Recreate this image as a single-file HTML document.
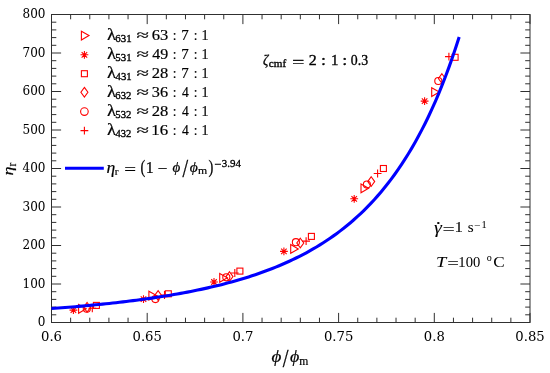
<!DOCTYPE html>
<html><head><meta charset="utf-8"><title>plot</title>
<style>html,body{margin:0;padding:0;background:#fff;}svg{display:block;}text{font-family:"Liberation Serif","DejaVu Serif",serif;fill:#000;stroke:#000;stroke-width:0.2px;}.tk{font-family:"DejaVu Serif","Liberation Serif",serif;font-size:12.8px;fill:#000;stroke-width:0.04px;}.m{fill:none;stroke:#f00;stroke-width:1.1;}</style>
</head><body>
<svg width="550" height="373" viewBox="0 0 550 373">
<rect x="0" y="0" width="550" height="373" fill="#fff"/>
<path d="M51.50 322.5v-9.6M51.50 14.5v9.6M70.64 322.5v-4.8M70.64 14.5v4.8M89.78 322.5v-4.8M89.78 14.5v4.8M108.92 322.5v-4.8M108.92 14.5v4.8M128.06 322.5v-4.8M128.06 14.5v4.8M147.20 322.5v-9.6M147.20 14.5v9.6M166.34 322.5v-4.8M166.34 14.5v4.8M185.48 322.5v-4.8M185.48 14.5v4.8M204.62 322.5v-4.8M204.62 14.5v4.8M223.76 322.5v-4.8M223.76 14.5v4.8M242.90 322.5v-9.6M242.90 14.5v9.6M262.04 322.5v-4.8M262.04 14.5v4.8M281.18 322.5v-4.8M281.18 14.5v4.8M300.32 322.5v-4.8M300.32 14.5v4.8M319.46 322.5v-4.8M319.46 14.5v4.8M338.60 322.5v-9.6M338.60 14.5v9.6M357.74 322.5v-4.8M357.74 14.5v4.8M376.88 322.5v-4.8M376.88 14.5v4.8M396.02 322.5v-4.8M396.02 14.5v4.8M415.16 322.5v-4.8M415.16 14.5v4.8M434.30 322.5v-9.6M434.30 14.5v9.6M453.44 322.5v-4.8M453.44 14.5v4.8M472.58 322.5v-4.8M472.58 14.5v4.8M491.72 322.5v-4.8M491.72 14.5v4.8M510.86 322.5v-4.8M510.86 14.5v4.8M530.00 322.5v-9.6M530.00 14.5v9.6M51.5 322.50h9.6M530.0 322.50h-9.6M51.5 314.80h4.8M530.0 314.80h-4.8M51.5 307.10h4.8M530.0 307.10h-4.8M51.5 299.40h4.8M530.0 299.40h-4.8M51.5 291.70h4.8M530.0 291.70h-4.8M51.5 284.00h9.6M530.0 284.00h-9.6M51.5 276.30h4.8M530.0 276.30h-4.8M51.5 268.60h4.8M530.0 268.60h-4.8M51.5 260.90h4.8M530.0 260.90h-4.8M51.5 253.20h4.8M530.0 253.20h-4.8M51.5 245.50h9.6M530.0 245.50h-9.6M51.5 237.80h4.8M530.0 237.80h-4.8M51.5 230.10h4.8M530.0 230.10h-4.8M51.5 222.40h4.8M530.0 222.40h-4.8M51.5 214.70h4.8M530.0 214.70h-4.8M51.5 207.00h9.6M530.0 207.00h-9.6M51.5 199.30h4.8M530.0 199.30h-4.8M51.5 191.60h4.8M530.0 191.60h-4.8M51.5 183.90h4.8M530.0 183.90h-4.8M51.5 176.20h4.8M530.0 176.20h-4.8M51.5 168.50h9.6M530.0 168.50h-9.6M51.5 160.80h4.8M530.0 160.80h-4.8M51.5 153.10h4.8M530.0 153.10h-4.8M51.5 145.40h4.8M530.0 145.40h-4.8M51.5 137.70h4.8M530.0 137.70h-4.8M51.5 130.00h9.6M530.0 130.00h-9.6M51.5 122.30h4.8M530.0 122.30h-4.8M51.5 114.60h4.8M530.0 114.60h-4.8M51.5 106.90h4.8M530.0 106.90h-4.8M51.5 99.20h4.8M530.0 99.20h-4.8M51.5 91.50h9.6M530.0 91.50h-9.6M51.5 83.80h4.8M530.0 83.80h-4.8M51.5 76.10h4.8M530.0 76.10h-4.8M51.5 68.40h4.8M530.0 68.40h-4.8M51.5 60.70h4.8M530.0 60.70h-4.8M51.5 53.00h9.6M530.0 53.00h-9.6M51.5 45.30h4.8M530.0 45.30h-4.8M51.5 37.60h4.8M530.0 37.60h-4.8M51.5 29.90h4.8M530.0 29.90h-4.8M51.5 22.20h4.8M530.0 22.20h-4.8M51.5 14.50h9.6M530.0 14.50h-9.6" stroke="#303030" stroke-width="1" fill="none"/>
<rect x="51.5" y="14.5" width="478.5" height="308.0" fill="none" stroke="#303030" stroke-width="1"/>
<text class="tk" transform="translate(51.50,341.2) scale(1.03,1)" text-anchor="middle">0.6</text>
<text class="tk" transform="translate(147.20,341.2) scale(1.03,1)" text-anchor="middle">0.65</text>
<text class="tk" transform="translate(242.90,341.2) scale(1.03,1)" text-anchor="middle">0.7</text>
<text class="tk" transform="translate(338.60,341.2) scale(1.03,1)" text-anchor="middle">0.75</text>
<text class="tk" transform="translate(434.30,341.2) scale(1.03,1)" text-anchor="middle">0.8</text>
<text class="tk" transform="translate(530.00,341.2) scale(1.03,1)" text-anchor="middle">0.85</text>
<text class="tk" transform="translate(45.5,326.30) scale(0.94,1)" text-anchor="end">0</text>
<text class="tk" transform="translate(45.5,287.80) scale(0.94,1)" text-anchor="end">100</text>
<text class="tk" transform="translate(45.5,249.30) scale(0.94,1)" text-anchor="end">200</text>
<text class="tk" transform="translate(45.5,210.80) scale(0.94,1)" text-anchor="end">300</text>
<text class="tk" transform="translate(45.5,172.30) scale(0.94,1)" text-anchor="end">400</text>
<text class="tk" transform="translate(45.5,133.80) scale(0.94,1)" text-anchor="end">500</text>
<text class="tk" transform="translate(45.5,95.30) scale(0.94,1)" text-anchor="end">600</text>
<text class="tk" transform="translate(45.5,56.80) scale(0.94,1)" text-anchor="end">700</text>
<text class="tk" transform="translate(45.5,18.30) scale(0.94,1)" text-anchor="end">800</text>
<path class="m" d="M78.60 304.40L86.20 308.80L78.60 313.20Z"/>
<path class="m" d="M148.90 291.20L156.50 295.60L148.90 300.00Z"/>
<path class="m" d="M219.70 273.40L227.30 277.80L219.70 282.20Z"/>
<path class="m" d="M290.70 244.50L298.30 248.90L290.70 253.30Z"/>
<path class="m" d="M361.00 183.90L368.60 188.30L361.00 192.70Z"/>
<path class="m" d="M431.70 87.70L439.30 92.10L431.70 96.50Z"/>
<path class="m" d="M69.50 310.10h7.8M73.40 306.20v7.8M70.64 307.34l5.52 5.52M70.64 312.86l5.52 -5.52"/>
<path class="m" d="M139.60 299.10h7.8M143.50 295.20v7.8M140.74 296.34l5.52 5.52M140.74 301.86l5.52 -5.52"/>
<path class="m" d="M210.10 282.00h7.8M214.00 278.10v7.8M211.24 279.24l5.52 5.52M211.24 284.76l5.52 -5.52"/>
<path class="m" d="M280.00 251.40h7.8M283.90 247.50v7.8M281.14 248.64l5.52 5.52M281.14 254.16l5.52 -5.52"/>
<path class="m" d="M350.30 198.80h7.8M354.20 194.90v7.8M351.44 196.04l5.52 5.52M351.44 201.56l5.52 -5.52"/>
<path class="m" d="M420.70 101.10h7.8M424.60 97.20v7.8M421.84 98.34l5.52 5.52M421.84 103.86l5.52 -5.52"/>
<rect class="m" x="93.40" y="302.40" width="6.0" height="6.0"/>
<rect class="m" x="165.30" y="290.80" width="6.0" height="6.0"/>
<rect class="m" x="236.90" y="268.10" width="6.0" height="6.0"/>
<rect class="m" x="308.40" y="233.40" width="6.0" height="6.0"/>
<rect class="m" x="380.40" y="165.50" width="6.0" height="6.0"/>
<rect class="m" x="452.10" y="54.30" width="6.0" height="6.0"/>
<path class="m" d="M87.10 302.50L90.60 307.30L87.10 312.10L83.60 307.30Z"/>
<path class="m" d="M158.10 290.60L161.60 295.40L158.10 300.20L154.60 295.40Z"/>
<path class="m" d="M229.50 271.80L233.00 276.60L229.50 281.40L226.00 276.60Z"/>
<path class="m" d="M300.30 238.20L303.80 243.00L300.30 247.80L296.80 243.00Z"/>
<path class="m" d="M371.20 176.80L374.70 181.60L371.20 186.40L367.70 181.60Z"/>
<path class="m" d="M441.90 73.70L445.40 78.50L441.90 83.30L438.40 78.50Z"/>
<circle class="m" cx="86.80" cy="308.70" r="3.55"/>
<circle class="m" cx="155.40" cy="299.10" r="3.55"/>
<circle class="m" cx="226.30" cy="277.30" r="3.55"/>
<circle class="m" cx="295.90" cy="242.20" r="3.55"/>
<circle class="m" cx="366.90" cy="184.60" r="3.55"/>
<circle class="m" cx="438.30" cy="81.00" r="3.55"/>
<path class="m" d="M88.40 308.30h7.8M92.30 304.40v7.8"/>
<path class="m" d="M160.60 295.00h7.8M164.50 291.10v7.8"/>
<path class="m" d="M230.90 273.00h7.8M234.80 269.10v7.8"/>
<path class="m" d="M302.20 241.10h7.8M306.10 237.20v7.8"/>
<path class="m" d="M373.70 173.50h7.8M377.60 169.60v7.8"/>
<path class="m" d="M445.00 56.60h7.8M448.90 52.70v7.8"/>
<polyline points="51.50,308.41 54.90,308.16 58.29,307.91 61.69,307.64 65.09,307.38 68.49,307.10 71.88,306.82 75.28,306.54 78.68,306.24 82.08,305.95 85.47,305.64 88.87,305.33 92.27,305.00 95.67,304.68 99.06,304.34 102.46,304.00 105.86,303.64 109.25,303.28 112.65,302.91 116.05,302.54 119.45,302.15 122.84,301.75 126.24,301.34 129.64,300.93 133.04,300.50 136.43,300.06 139.83,299.61 143.23,299.15 146.63,298.68 150.02,298.20 153.42,297.70 156.82,297.19 160.22,296.67 163.61,296.14 167.01,295.59 170.41,295.02 173.80,294.44 177.20,293.85 180.60,293.24 184.00,292.61 187.39,291.97 190.79,291.31 194.19,290.63 197.59,289.93 200.98,289.22 204.38,288.48 207.78,287.72 211.18,286.95 214.57,286.15 217.97,285.32 221.37,284.48 224.76,283.61 228.16,282.71 231.56,281.79 234.96,280.84 238.35,279.87 241.75,278.86 245.15,277.83 248.55,276.76 251.94,275.66 255.34,274.53 258.74,273.37 262.14,272.16 265.53,270.93 268.93,269.65 272.33,268.33 275.73,266.98 279.12,265.57 282.52,264.13 285.92,262.64 289.31,261.10 292.71,259.51 296.11,257.87 299.51,256.17 302.90,254.42 306.30,252.61 309.70,250.74 313.10,248.81 316.49,246.81 319.89,244.74 323.29,242.60 326.69,240.39 330.08,238.10 333.48,235.73 336.88,233.27 340.27,230.73 343.67,228.10 347.07,225.37 350.47,222.54 353.86,219.61 357.26,216.56 360.66,213.41 364.06,210.14 367.45,206.74 370.85,203.21 374.25,199.55 377.65,195.74 381.04,191.79 384.44,187.68 387.84,183.41 391.23,178.96 394.63,174.34 398.03,169.53 401.43,164.52 404.82,159.31 408.22,153.88 411.62,148.21 415.02,142.31 418.41,136.16 421.81,129.74 425.21,123.04 428.61,116.05 432.00,108.75 435.40,101.12 438.80,93.15 442.20,84.81 445.59,76.09 448.99,66.97 452.39,57.42 455.78,47.41 459.18,36.93" fill="none" stroke="#0000ff" stroke-width="3.1" stroke-linejoin="round" transform="translate(0,0.15)"/>
<path class="m" d="M81.40 31.20L89.00 35.60L81.40 40.00Z"/>
<path class="m" d="M80.50 54.80h7.8M84.40 50.90v7.8M81.64 52.04l5.52 5.52M81.64 57.56l5.52 -5.52"/>
<rect class="m" x="81.40" y="70.70" width="6.0" height="6.0"/>
<path class="m" d="M84.40 87.40L87.90 92.20L84.40 97.00L80.90 92.20Z"/>
<circle class="m" cx="84.40" cy="111.60" r="3.8"/>
<path class="m" d="M80.50 130.60h7.8M84.40 126.70v7.8"/>
<text transform="translate(107.01,39.90) scale(1.186,1.1)" font-size="15.6">λ</text>
<text transform="translate(115.30,41.70) scale(0.990,1)" font-size="11" style="stroke-width:0.35px">631</text>
<text transform="translate(136.44,40.40) scale(1.517,1)" font-size="15">≈</text>
<text transform="translate(151.81,39.90) scale(1.060,1)" font-size="15.6">63</text>
<text transform="translate(172.74,39.90) scale(0.900,1)" font-size="15">:</text>
<text transform="translate(181.33,39.90) scale(0.969,1)" font-size="15.6">7</text>
<text transform="translate(193.74,39.90) scale(0.900,1)" font-size="15">:</text>
<text transform="translate(201.39,39.90) scale(0.900,1)" font-size="15.6">1</text>
<text transform="translate(107.01,58.90) scale(1.186,1.1)" font-size="15.6">λ</text>
<text transform="translate(115.30,60.70) scale(0.990,1)" font-size="11" style="stroke-width:0.35px">531</text>
<text transform="translate(136.44,59.40) scale(1.517,1)" font-size="15">≈</text>
<text transform="translate(152.34,58.90) scale(1.024,1)" font-size="15.6">49</text>
<text transform="translate(172.74,58.90) scale(0.900,1)" font-size="15">:</text>
<text transform="translate(181.33,58.90) scale(0.969,1)" font-size="15.6">7</text>
<text transform="translate(193.74,58.90) scale(0.900,1)" font-size="15">:</text>
<text transform="translate(201.39,58.90) scale(0.900,1)" font-size="15.6">1</text>
<text transform="translate(107.01,77.90) scale(1.186,1.1)" font-size="15.6">λ</text>
<text transform="translate(115.56,79.70) scale(0.974,1)" font-size="11" style="stroke-width:0.35px">431</text>
<text transform="translate(136.44,78.40) scale(1.517,1)" font-size="15">≈</text>
<text transform="translate(151.81,77.90) scale(1.060,1)" font-size="15.6">28</text>
<text transform="translate(172.74,77.90) scale(0.900,1)" font-size="15">:</text>
<text transform="translate(181.33,77.90) scale(0.969,1)" font-size="15.6">7</text>
<text transform="translate(193.74,77.90) scale(0.900,1)" font-size="15">:</text>
<text transform="translate(201.39,77.90) scale(0.900,1)" font-size="15.6">1</text>
<text transform="translate(107.01,96.90) scale(1.186,1.1)" font-size="15.6">λ</text>
<text transform="translate(115.31,98.70) scale(0.974,1)" font-size="11" style="stroke-width:0.35px">632</text>
<text transform="translate(136.44,97.40) scale(1.517,1)" font-size="15">≈</text>
<text transform="translate(151.82,96.90) scale(1.041,1)" font-size="15.6">36</text>
<text transform="translate(172.74,96.90) scale(0.900,1)" font-size="15">:</text>
<text transform="translate(182.08,96.90) scale(0.869,1)" font-size="15.6">4</text>
<text transform="translate(193.74,96.90) scale(0.900,1)" font-size="15">:</text>
<text transform="translate(201.39,96.90) scale(0.900,1)" font-size="15.6">1</text>
<text transform="translate(107.01,115.90) scale(1.186,1.1)" font-size="15.6">λ</text>
<text transform="translate(115.31,117.70) scale(0.974,1)" font-size="11" style="stroke-width:0.35px">532</text>
<text transform="translate(136.44,116.40) scale(1.517,1)" font-size="15">≈</text>
<text transform="translate(151.81,115.90) scale(1.060,1)" font-size="15.6">28</text>
<text transform="translate(172.74,115.90) scale(0.900,1)" font-size="15">:</text>
<text transform="translate(182.08,115.90) scale(0.869,1)" font-size="15.6">4</text>
<text transform="translate(193.74,115.90) scale(0.900,1)" font-size="15">:</text>
<text transform="translate(201.39,115.90) scale(0.900,1)" font-size="15.6">1</text>
<text transform="translate(107.01,134.90) scale(1.186,1.1)" font-size="15.6">λ</text>
<text transform="translate(115.56,136.70) scale(0.959,1)" font-size="11" style="stroke-width:0.35px">432</text>
<text transform="translate(136.44,135.40) scale(1.517,1)" font-size="15">≈</text>
<text transform="translate(151.25,134.90) scale(1.079,1)" font-size="15.6">16</text>
<text transform="translate(172.74,134.90) scale(0.900,1)" font-size="15">:</text>
<text transform="translate(182.08,134.90) scale(0.869,1)" font-size="15.6">4</text>
<text transform="translate(193.74,134.90) scale(0.900,1)" font-size="15">:</text>
<text transform="translate(201.39,134.90) scale(0.900,1)" font-size="15.6">1</text>
<text transform="translate(106.56,172.90) scale(1.086,1)" font-size="16.2" font-style="italic">η</text>
<text transform="translate(114.75,174.50) scale(1.000,1)" font-size="11.3">r</text>
<text transform="translate(124.23,174.60) scale(1.293,1)" font-size="16.2">=</text>
<text transform="translate(140.61,172.50) scale(0.900,1.12)" font-size="16.2">(</text>
<text transform="translate(145.71,172.90) scale(0.991,1)" font-size="16.2">1</text>
<text transform="translate(157.59,173.60) scale(1.080,1)" font-size="16.2">−</text>
<text transform="translate(172.56,171.90) scale(0.973,1)" font-size="15.4" font-style="italic">ϕ</text>
<text transform="translate(182.39,176.50) scale(1.250,1.5)" font-size="16.2">/</text>
<text transform="translate(189.85,171.90) scale(1.013,1)" font-size="15.4" font-style="italic">ϕ</text>
<text transform="translate(197.94,174.40) scale(1.047,1)" font-size="11.3">m</text>
<text transform="translate(208.39,172.50) scale(0.900,1.12)" font-size="16.2">)</text>
<text transform="translate(214.35,167.70) scale(1.105,1)" font-size="11.3" style="stroke-width:0.3px">−</text>
<text transform="translate(221.79,166.60) scale(1.019,1)" font-size="10.8" style="stroke-width:0.3px">3.94</text>
<text transform="translate(262.96,65.10) scale(0.850,1)" font-size="15.6" font-style="italic" style="stroke-width:0.35px">ζ</text>
<text transform="translate(268.79,66.60) scale(1.015,1)" font-size="11" style="stroke-width:0.35px">cmf</text>
<text transform="translate(292.18,66.70) scale(1.366,1)" font-size="15.6" style="stroke-width:0.35px">=</text>
<text transform="translate(308.63,65.10) scale(1.024,1)" font-size="15.6" style="stroke-width:0.35px">2</text>
<text transform="translate(321.07,65.10) scale(1.143,1)" font-size="15.6" style="stroke-width:0.35px">:</text>
<text transform="translate(330.90,65.10) scale(0.957,1)" font-size="15.6" style="stroke-width:0.35px">1</text>
<text transform="translate(342.27,65.10) scale(1.143,1)" font-size="15.6" style="stroke-width:0.35px">:</text>
<text transform="translate(350.86,65.10) scale(0.886,1)" font-size="15.6" style="stroke-width:0.35px">0.3</text>
<text transform="translate(434.05,233.40) scale(1.409,1.12)" font-size="14.2" font-style="italic" style="stroke-width:0.04px">γ</text>
<text transform="translate(434.60,234.50) scale(1.200,1)" font-size="19" style="stroke-width:0.04px">˙</text>
<text transform="translate(442.45,234.10) scale(1.538,1)" font-size="14.2" style="stroke-width:0.04px">=</text>
<text transform="translate(454.40,232.40) scale(1.200,1)" font-size="14.2" style="stroke-width:0.04px">1</text>
<text transform="translate(467.77,232.40) scale(1.067,1)" font-size="14.2" style="stroke-width:0.04px">s</text>
<text transform="translate(474.24,229.00) scale(1.116,1)" font-size="10" style="stroke-width:0.04px">−</text>
<text transform="translate(481.62,228.40) scale(1.040,1)" font-size="10" style="stroke-width:0.04px">1</text>
<text transform="translate(436.05,266.80) scale(1.250,1)" font-size="14.8" font-style="italic" style="stroke-width:0.04px">T</text>
<text transform="translate(447.35,268.00) scale(1.400,1)" font-size="14.8" style="stroke-width:0.04px">=</text>
<text transform="translate(458.37,266.80) scale(0.985,1)" font-size="14.8" style="stroke-width:0.04px">100</text>
<text transform="translate(486.72,261.00) scale(0.965,1)" font-size="10.4" style="stroke-width:0.04px">o</text>
<text transform="translate(493.22,266.80) scale(1.153,1)" font-size="14.8" style="stroke-width:0.04px">C</text>
<text transform="translate(271.51,362.30) scale(1.150,1)" font-size="16.5" font-style="italic">ϕ</text>
<text transform="translate(282.84,366.50) scale(1.250,1.5)" font-size="16.5">/</text>
<text transform="translate(290.03,362.30) scale(1.087,1)" font-size="16.5" font-style="italic">ϕ</text>
<text transform="translate(299.35,364.60) scale(1.012,1)" font-size="11.5">m</text>
<path d="M65 168.3H103.8" stroke="#0000ff" stroke-width="3" fill="none"/>
<g transform="translate(12.5,175.4) rotate(-90)"><text font-size="15" font-style="italic" transform="scale(1.2,1)">η</text><text x="8.8" y="3.2" font-size="11.5">r</text></g>
</svg>
</body></html>
